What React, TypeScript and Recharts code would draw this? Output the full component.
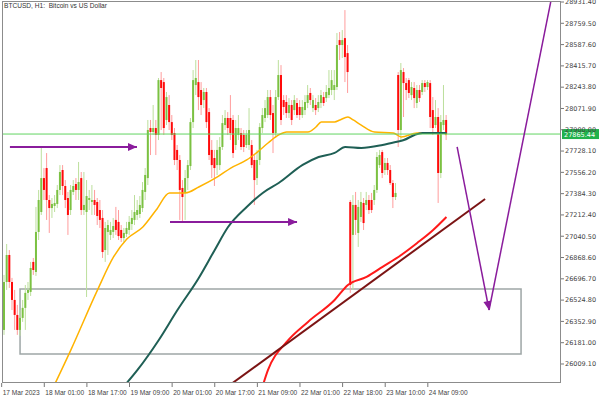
import React from 'react';
import {
  ComposedChart, Bar, Line, XAxis, YAxis, ReferenceLine, ReferenceArea, ReferenceDot,
} from 'recharts';

// BTCUSD H1 candles, one entry per bar
const opens = [
  26365, 26284, 26671, 26889, 26671, 26526, 26405, 26284, 26381, 26462,
  26583, 26591, 26833, 26752, 27075, 27236, 27510, 27591, 27333, 27268,
  27285, 27301, 27414, 27575, 27446, 27349, 27252, 27398, 27462, 27414,
  27510, 27252, 27236, 27333, 27317, 27333, 27317, 27252, 27188, 26929,
  27075, 27051, 27075, 27172, 27156, 27091, 27026, 27059, 27091, 27139,
  27172, 27212, 27220, 27268, 27398, 27510, 27914, 27882, 27914, 27858,
  28301, 28285, 27979, 28100, 27962, 27874, 27737, 27656, 27430, 27390,
  27510, 27607, 27962, 28261, 28285, 28221, 28140, 28205, 28043, 27737,
  27672, 27615, 27615, 27761, 27938, 27995, 27995, 27979, 27777, 27858,
  27874, 27858, 27777, 27777, 27777, 27656, 27510, 27656, 27914, 27995,
  28019, 28164, 28035, 27874, 28164, 28342, 28140, 28124, 28035, 28100,
  28059, 28116, 28084, 28019, 28059, 28116, 28197, 28075, 28100, 28075,
  28116, 28164, 28156, 28180, 28221, 28221, 28245, 28624, 28584, 28640,
  28519, 27317, 27051, 27293, 27067, 27196, 27309, 27293, 27333, 27333,
  27333, 27414, 27615, 27720, 27575, 27632, 27575, 27470, 27357, 28342,
  27898, 28366, 28277, 28301, 28180, 28237, 28116, 28221, 28205, 28277,
  28245, 28277, 28059, 27938, 28003, 27551, 27938, 27979,
];
const highs = [
  26405, 26728, 26978, 26929, 26704, 26607, 26486, 26445, 26526, 26647,
  26671, 26833, 26865, 27277, 27414, 27753, 27591, 27712, 27373, 27349,
  27373, 27454, 27615, 27615, 27494, 27398, 27454, 27494, 27510, 27640,
  27559, 27559, 27494, 27414, 27454, 27414, 27349, 27333, 27252, 27156,
  27172, 27156, 27188, 27277, 27252, 27131, 27107, 27156, 27204, 27252,
  27373, 27333, 27365, 27478, 27591, 27979, 27979, 28100, 27979, 28318,
  28366, 28318, 28205, 28180, 28019, 27914, 27777, 27696, 27494, 27575,
  27656, 27995, 28382, 28463, 28463, 28285, 28237, 28237, 28075, 27817,
  27737, 27817, 27841, 28019, 28059, 28043, 28180, 28019, 27979, 28019,
  27914, 27898, 27898, 28075, 27817, 27696, 27737, 27954, 28075, 28140,
  28221, 28221, 28100, 28221, 28463, 28422, 28180, 28180, 28156, 28140,
  28180, 28156, 28140, 28140, 28180, 28261, 28237, 28180, 28156, 28180,
  28221, 28205, 28261, 28382, 28382, 28382, 28681, 28689, 28705, 28866,
  28584, 27333, 27373, 27398, 27333, 27398, 27349, 27398, 27373, 27390,
  27454, 27720, 27737, 27737, 27672, 27672, 27615, 27494, 27470, 28366,
  28439, 28398, 28318, 28318, 28285, 28285, 28261, 28261, 28301, 28301,
  28301, 28301, 28164, 28140, 28075, 28019, 28261, 28019,
];
const lows = [
  26163, 26244, 26607, 26623, 26445, 26284, 26244, 26236, 26349, 26284,
  26526, 26558, 26728, 26720, 27010, 27212, 27333, 27172, 27067, 27188,
  27236, 27268, 27373, 27373, 27268, 27051, 27212, 27373, 27333, 27333,
  27212, 27212, 26550, 27252, 27212, 27212, 27131, 27107, 26865, 26833,
  26889, 27010, 27026, 27051, 27010, 26994, 26994, 27034, 27051, 27091,
  27131, 27172, 27188, 27236, 27333, 27454, 27696, 27858, 27696, 27817,
  27898, 27858, 27938, 27898, 27817, 27615, 27575, 27172, 27156, 27172,
  27414, 27575, 27914, 28180, 28059, 28019, 28075, 27914, 27656, 27510,
  27446, 27535, 27575, 27737, 27898, 27858, 27817, 27672, 27737, 27817,
  27737, 27720, 27753, 27737, 27591, 27293, 27454, 27615, 27874, 27962,
  27995, 27979, 27712, 27833, 28140, 27938, 28019, 27995, 27995, 27938,
  28019, 27995, 27979, 27995, 28019, 28075, 28100, 28043, 28019, 28043,
  28075, 28092, 28124, 28156, 28180, 28140, 28221, 28463, 28479, 28285,
  28197, 26583, 26607, 27051, 26954, 27156, 27091, 27252, 27220, 27228,
  27293, 27390, 27591, 27510, 27535, 27535, 27454, 27268, 27333, 27761,
  27817, 28003, 28140, 28156, 28140, 28075, 28075, 28124, 28180, 28205,
  28221, 27914, 27858, 27914, 27309, 27510, 27898, 27817,
];
const closes = [
  26203, 26671, 26889, 26671, 26526, 26405, 26284, 26381, 26462, 26583,
  26607, 26784, 26768, 27075, 27333, 27510, 27414, 27333, 27268, 27301,
  27309, 27414, 27559, 27446, 27333, 27212, 27414, 27446, 27414, 27478,
  27252, 27293, 27365, 27349, 27333, 27293, 27204, 27172, 26913, 27107,
  27131, 27091, 27123, 27091, 27042, 27026, 27067, 27107, 27156, 27188,
  27236, 27252, 27293, 27414, 27535, 27898, 27882, 27914, 27858, 28301,
  28237, 27914, 28164, 27962, 27858, 27656, 27656, 27414, 27357, 27510,
  27615, 27962, 28301, 28318, 28164, 28100, 28205, 27962, 27696, 27615,
  27591, 27737, 27761, 27954, 27995, 27914, 27874, 27712, 27914, 27914,
  27761, 27761, 27858, 27898, 27615, 27494, 27656, 27922, 28019, 28075,
  28164, 28019, 27874, 28164, 28342, 27979, 28084, 28035, 28100, 27979,
  28140, 28019, 28019, 28084, 28124, 28180, 28140, 28140, 28059, 28124,
  28180, 28116, 28205, 28237, 28301, 28261, 28584, 28584, 28624, 28487,
  28366, 26647, 27293, 27172, 27277, 27317, 27147, 27333, 27252, 27252,
  27414, 27680, 27696, 27551, 27632, 27575, 27470, 27357, 27390, 27898,
  28382, 28277, 28221, 28197, 28245, 28156, 28221, 28156, 28277, 28245,
  28285, 28003, 27914, 28003, 27551, 27962, 27979, 27865,
];

// moving averages, read as [bar, price] points along each curve
const fastMA = [
  [18, 25759], [26, 26123], [36, 26607], [42, 26873], [47, 27018], [53, 27115],
  [58, 27252], [63, 27390], [69, 27390], [74, 27438], [81, 27519], [86, 27591],
  [92, 27656], [96, 27720], [100, 27793], [104, 27858], [107, 27882], [115, 27882],
  [118, 27922], [120, 27963], [125, 27963], [127, 27979], [130, 28003], [132, 27979],
  [135, 27938], [140, 27882], [147, 27874], [150, 27842], [156, 27874], [166, 27874],
  [167, 27858],
];
const slowMA = [
  [43, 25759], [51, 25961], [59, 26203], [66, 26445], [74, 26704], [80, 26930],
  [85, 27115], [92, 27277], [98, 27390], [104, 27470], [113, 27616], [119, 27680],
  [125, 27713], [129, 27761], [135, 27753], [143, 27777], [148, 27801], [151, 27817],
  [155, 27858], [158, 27874], [167, 27874],
];
const redMA = [
  [97, 25759], [100, 25961], [107, 26187], [115, 26349], [125, 26526], [130, 26647],
  [137, 26712], [143, 26793], [150, 26889], [156, 26986], [162, 27091], [167, 27196],
];

const xTicks = [0, 16, 32, 48, 64, 80, 96, 112, 128, 144, 160];
const xLabels = [
  '17 Mar 2023', '18 Mar 01:00', '18 Mar 17:00', '19 Mar 09:00', '20 Mar 01:00',
  '20 Mar 17:00', '21 Mar 09:00', '22 Mar 01:00', '22 Mar 18:00', '23 Mar 10:00',
  '24 Mar 09:00',
];
const priceTicks = [
  28931.4, 28759.5, 28587.6, 28415.7, 28243.8, 28071.9, 27900.0, 27728.1, 27556.2,
  27384.3, 27212.4, 27040.5, 26868.6, 26696.7, 26524.8, 26352.9, 26181.0, 26009.1,
];
const lastPrice = 27865.44;

// drawn analysis objects (bar, price)
const arrowLeft = [{ x: 3.1, y: 27761 }, { x: 50.8, y: 27761 }];
const arrowMid = [{ x: 63.2, y: 27155 }, { x: 110.9, y: 27155 }];
const zigDown = [{ x: 171, y: 27761 }, { x: 183, y: 26445 }];
const zigUp = [{ x: 183, y: 26445 }, { x: 206.2, y: 28939 }];
const trendLine = [{ x: 85.7, y: 25840 }, { x: 181.5, y: 27341 }];
const box = { x1: 6.9, x2: 195, y1: 26090, y2: 26615 };

const pick = (pts: number[][], i: number) => {
  const f = pts.find((p) => p[0] === i);
  return f ? f[1] : null;
};

const rows = opens.map((o, i) => ({
  i,
  o,
  h: highs[i],
  l: lows[i],
  c: closes[i],
  range: [lows[i], highs[i]],
  fast: pick(fastMA, i),
  slow: pick(slowMA, i),
  red: pick(redMA, i),
}));

const FONT = '"DejaVu Sans", sans-serif';
const NARROW = '"Liberation Sans", Arial, sans-serif';
const PURPLE = '#8a1c9c';

const Candle = (props: any) => {
  const { x, y, width, height, payload } = props;
  if (!payload || height == null) return null;
  const { o, h, l, c } = payload;
  const top = Math.min(y, y + height);
  const span = Math.abs(height);
  const k = span / (h - l || 1);
  const yOf = (v: number) => top + (h - v) * k;
  const up = c >= o;
  const cx = x + width / 2;
  const bTop = yOf(Math.max(o, c));
  const bBot = yOf(Math.min(o, c));
  return (
    <g>
      <line x1={cx} x2={cx} y1={top} y2={top + span} stroke={up ? '#bcdf9c' : '#ff9c9c'} strokeWidth={1} />
      <rect x={cx - 1} y={bTop} width={2} height={Math.max(1, bBot - bTop)} fill={up ? '#7bc142' : '#ff0a0a'} />
    </g>
  );
};

const XTick = (props: any) => {
  const { x, y, payload } = props;
  const idx = xTicks.indexOf(payload.value);
  return (
    <g>
      <line x1={x} x2={x} y1={y} y2={y + 4} stroke="#777" />
      <text x={x + 1} y={y + 12} fontSize={6.6} fontFamily={NARROW} fill="#444">{xLabels[idx]}</text>
    </g>
  );
};

const YTick = (props: any) => {
  const { x, y, payload } = props;
  return (
    <g>
      <line x1={x} x2={x + 3} y1={y} y2={y} stroke="#777" />
      <text x={x + 4} y={y + 2.3} fontSize={6.5} fontFamily={FONT} fill="#444">{Number(payload.value).toFixed(2)}</text>
    </g>
  );
};

const PriceTag = (props: any) => {
  const vb = props.viewBox || {};
  const x = vb.x + vb.width;
  const y = vb.y;
  return (
    <g>
      <rect x={x + 1} y={y - 5} width={37} height={10} fill="#22b24c" />
      <text x={x + 3} y={y + 2.5} fontSize={6.5} fontFamily={FONT} fill="#ffffff">{lastPrice.toFixed(2)}</text>
    </g>
  );
};

const arrowHead = (angle: number) => (props: any) => {
  const { cx, cy } = props;
  const a = (angle * Math.PI) / 180;
  const L = 9;
  const W = 4;
  const bx = cx - L * Math.cos(a);
  const by = cy - L * Math.sin(a);
  const px = -Math.sin(a) * W;
  const py = Math.cos(a) * W;
  return <polygon points={`${cx},${cy} ${bx + px},${by + py} ${bx - px},${by - py}`} fill={PURPLE} />;
};

export default function App() {
  return (
    <div style={{ position: 'relative', width: 600, height: 400, background: '#fff' }}>
      <style>{'body{margin:0}'}</style>
      <ComposedChart width={600} height={400} data={rows} margin={{ top: 1, right: 0, bottom: 0, left: 3 }}>
        <XAxis
          type="number"
          dataKey="i"
          domain={[0.5, 210]}
          allowDataOverflow
          ticks={xTicks}
          interval={0}
          height={17}
          axisLine={false}
          tickLine={false}
          tickSize={0}
          tickMargin={0}
          tick={<XTick />}
        />
        <YAxis
          orientation="right"
          domain={[25855.6, 28939.5]}
          allowDataOverflow
          ticks={priceTicks}
          interval={0}
          width={39}
          axisLine={false}
          tickLine={false}
          tickSize={0}
          tickMargin={0}
          tick={<YTick />}
        />
        <ReferenceArea {...box} fill="none" stroke="#9ea6a6" strokeWidth={1.5} ifOverflow="visible" />
        <Bar dataKey="range" barSize={2} shape={Candle} isAnimationActive={false} />
        <Line dataKey="fast" type="monotone" stroke="#ffb300" strokeWidth={1.5} dot={false} connectNulls isAnimationActive={false} />
        <Line dataKey="slow" type="monotone" stroke="#1f5f55" strokeWidth={2} dot={false} connectNulls isAnimationActive={false} />
        <Line dataKey="red" type="monotone" stroke="#ff1a1a" strokeWidth={2} dot={false} connectNulls isAnimationActive={false} />
        <ReferenceLine segment={trendLine} stroke="#7b1414" strokeWidth={2} ifOverflow="hidden" />
        <ReferenceLine y={lastPrice} stroke="#62d562" strokeWidth={1} label={PriceTag} />
        <ReferenceLine segment={arrowLeft} stroke={PURPLE} strokeWidth={2} ifOverflow="visible" />
        <ReferenceLine segment={arrowMid} stroke={PURPLE} strokeWidth={2} ifOverflow="visible" />
        <ReferenceLine segment={zigDown} stroke={PURPLE} strokeWidth={1.5} ifOverflow="visible" />
        <ReferenceLine segment={zigUp} stroke={PURPLE} strokeWidth={1.5} ifOverflow="visible" />
        <ReferenceDot x={arrowLeft[1].x} y={arrowLeft[1].y} ifOverflow="visible" shape={arrowHead(0)} />
        <ReferenceDot x={arrowMid[1].x} y={arrowMid[1].y} ifOverflow="visible" shape={arrowHead(0)} />
        <ReferenceDot x={zigDown[1].x} y={zigDown[1].y} ifOverflow="visible" shape={arrowHead(79)} />
      </ComposedChart>
      <div style={{ position: 'absolute', left: 2, top: 1, width: 559, height: 382, border: '1px solid #8c8c8c', boxSizing: 'border-box', pointerEvents: 'none' }} />
      <div style={{ position: 'absolute', left: 4, top: 3, fontFamily: NARROW, fontSize: 6.6, lineHeight: 1, color: '#333', whiteSpace: 'pre' }}>
        {'BTCUSD, H1:  Bitcoin vs US Dollar'}
      </div>
    </div>
  );
}
